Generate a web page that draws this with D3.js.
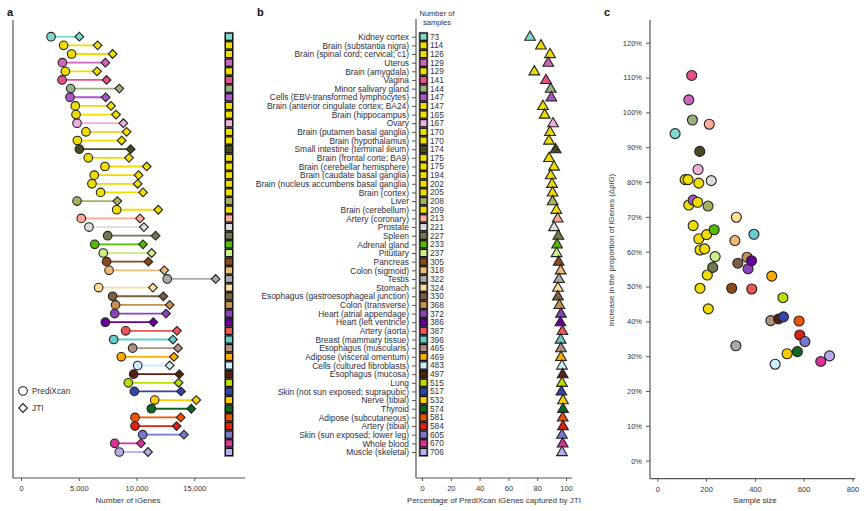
<!DOCTYPE html>
<html>
<head>
<meta charset="utf-8">
<script src="https://cdn.jsdelivr.net/npm/d3@7"></script>
<style>
  body { margin: 0; background: #fff; }
  text { font-family: "Liberation Sans", Arial, sans-serif; fill: #333; }
</style>
</head>
<body>
<script>
// tissues, top to bottom
let tissues = ["Kidney cortex", "Brain (substantia nigra)", "Brain (spinal cord; cervical; c1)", "Uterus",
  "Brain (amygdala)", "Vagina", "Minor salivary gland", "Cells (EBV-transformed lymphocytes)",
  "Brain (anterior cingulate cortex; BA24)", "Brain (hippocampus)", "Ovary", "Brain (putamen basal ganglia)",
  "Brain (hypothalamus)", "Small intestine (terminal ileum)", "Brain (frontal corte; BA9)",
  "Brain (cerebellar hemisphere)", "Brain (caudate basal ganglia)", "Brain (nucleus accumbens basal ganglia)",
  "Brain (cortex)", "Liver", "Brain (cerebellum)", "Artery (coronary)", "Prostate", "Spleen", "Adrenal gland",
  "Pituitary", "Pancreas", "Colon (sigmoid)", "Testis", "Stomach", "Esophagus (gastroesophageal junction)",
  "Colon (transverse)", "Heart (atrial appendage)", "Heart (left ventricle)", "Artery (aorta)",
  "Breast (mammary tissue)", "Esophagus (muscularis)", "Adipose (visceral omentum)", "Cells (cultured fibroblasts)",
  "Esophagus (mucosa)", "Lung", "Skin (not sun exposed; suprapubic)", "Nerve (tibial)", "Thyroid",
  "Adipose (subcutaneous)", "Artery (tibial)", "Skin (sun exposed; lower leg)", "Whole blood", "Muscle (skeletal)"];

let samples = [73, 114, 126, 129, 129, 141, 144, 147, 147, 165, 167, 170, 170, 174, 175, 175, 194, 202, 205, 208,
  209, 213, 221, 227, 233, 237, 305, 318, 322, 324, 330, 368, 372, 386, 387, 396, 465, 469, 483, 497, 515, 517,
  532, 574, 581, 584, 605, 670, 706];

let colors = ["#80d8cc", "#eedd00", "#eedd00", "#cc66bb", "#eedd00", "#e8508a", "#99b080", "#aa55cc", "#eedd00",
  "#eedd00", "#f0b0dd", "#eedd00", "#eedd00", "#4a4a22", "#eedd00", "#eedd00", "#eedd00", "#eedd00", "#eedd00",
  "#a8b060", "#eedd00", "#ffaa99", "#dddddd", "#727850", "#55bb00", "#ccee88", "#8b4a1a", "#eebb77", "#aaaaaa",
  "#ffdd99", "#7a6040", "#c89050", "#8844bb", "#660099", "#ee5555", "#66cccc", "#b09080", "#ffaa00", "#cceeff",
  "#552211", "#bbdd00", "#3344aa", "#ffcc00", "#116622", "#ee5500", "#dd2211", "#7777cc", "#dd3399", "#bbaaee"];

// panel a: number of iGenes
let predixcan = [2600, 3690, 4380, 3580, 3840, 3550, 4300, 4240, 4700, 4760, 4850, 5620, 4880, 5050, 5820, 7270,
  6340, 6140, 6890, 4850, 8280, 5220, 5880, 7500, 6380, 7120, 7410, 7620, 12660, 6720, 7930, 8190, 8110, 7300,
  9060, 8020, 9660, 8680, 10100, 9750, 9290, 9810, 11570, 11280, 9870, 9870, 10530, 8110, 8510];
let jti = [5050, 6630, 7930, 7300, 6580, 7410, 8510, 7330, 7790, 8220, 8860, 9140, 8710, 9490, 9350, 10880,
  10180, 10100, 10560, 8340, 11880, 10300, 10640, 11650, 10560, 11310, 11020, 12400, 16850, 11420, 12320, 12870,
  12550, 11450, 13500, 13150, 13590, 13240, 12870, 13700, 13640, 13850, 15170, 14740, 13820, 13470, 14100, 10380,
  10990];

// panel b: percentage of PrediXcan iGenes captured by JTI
let captured = [75.0, 82.6, 88.9, 87.7, 78.0, 86.1, 89.4, 89.8, 84.0, 85.2, 91.0, 88.9, 88.2, 92.8, 88.2, 91.7,
  89.4, 90.3, 90.7, 90.7, 93.3, 94.2, 91.7, 94.7, 93.8, 93.5, 94.9, 96.3, 95.1, 94.4, 94.4, 95.4, 96.5, 96.1, 97.5,
  96.3, 96.5, 96.5, 97.2, 97.7, 97.2, 96.8, 97.9, 97.9, 97.7, 97.9, 97.2, 97.7, 97.2];

// panel c: increase in the proportion of iGenes (%)
let deltaPiG = [93.9, 80.7, 80.7, 103.6, 73.4, 110.6, 97.8, 74.8, 67.5, 74.2, 83.6, 79.7, 63.7, 88.8, 60.5, 49.5,
  60.8, 64.9, 53.3, 73.1, 43.6, 96.6, 80.4, 55.5, 66.3, 58.6, 49.5, 63.2, 33.0, 69.9, 56.7, 58.4, 55.1, 57.4, 49.3,
  65.0, 40.2, 53.0, 27.7, 40.7, 46.8, 41.3, 30.7, 31.3, 40.1, 36.1, 34.2, 28.5, 30.1];

let aTicks = [0, 5000, 10000, 15000];
let bTicks = [0, 20, 40, 60, 80, 100];
let cxTicks = [0, 200, 400, 600, 800];
let cyTicks = [0, 10, 20, 30, 40, 50, 60, 70, 80, 90, 100, 110, 120];

let rows = tissues.map(function(t, i) {
  return {tissue: t, n: samples[i], color: colors[i], pred: predixcan[i], jti: jti[i],
          pct: captured[i], dpig: deltaPiG[i]};
});

let svg = d3.select("body").append("svg").attr("width", 864).attr("height", 511);
let axisColor = "#555";

let yRow = d3.scalePoint().domain(tissues).range([36.7, 452]);

function panelLabel(x, t) {
  svg.append("text").attr("x", x).attr("y", 16).text(t)
    .style("font-size", "11px").style("font-weight", "bold").style("fill", "#111");
}
function styleAxis(g) {
  g.selectAll("path").style("stroke", axisColor);
  g.selectAll("line").style("stroke", axisColor);
  g.selectAll("text").style("font-size", "7.5px").style("fill", "#333")
    .style("font-family", "Liberation Sans, Arial, sans-serif");
}
function squares(x) {
  svg.append("rect").attr("x", x - 4.8).attr("y", yRow(tissues[0]) - 4.8)
    .attr("width", 9.6).attr("height", yRow(tissues[48]) - yRow(tissues[0]) + 9.6)
    .style("fill", "#888");
  svg.append("g").selectAll("rect").data(rows).enter().append("rect")
    .attr("x", x - 3.6).attr("y", function(d) { return yRow(d.tissue) - 3.6; })
    .attr("width", 7.2).attr("height", 7.2)
    .style("fill", function(d) { return d.color; })
    .style("stroke", "#111").style("stroke-width", 1.2);
}

// ---------- panel a ----------
panelLabel(7, "a");
let xA = d3.scaleLinear().domain([0, 15000]).range([21, 194.3]);
svg.append("line").attr("x1", 13).attr("x2", 13).attr("y1", 20).attr("y2", 478)
  .style("stroke", axisColor).style("stroke-width", 1.2);
svg.append("line").attr("x1", 13).attr("x2", 245).attr("y1", 478).attr("y2", 478)
  .style("stroke", axisColor).style("stroke-width", 1.2);
let gA = svg.append("g").attr("transform", "translate(0,478)")
  .call(d3.axisBottom(xA).tickValues(aTicks).tickSize(3).tickPadding(5).tickFormat(d3.format(",")));
gA.select(".domain").remove();
styleAxis(gA);
svg.append("text").attr("x", 128).attr("y", 503).attr("text-anchor", "middle")
  .text("Number of iGenes").style("font-size", "8px");

let ga = svg.append("g");
ga.selectAll("line.link").data(rows).enter().append("line")
  .attr("x1", function(d) { return xA(d.pred); })
  .attr("x2", function(d) { return xA(d.jti); })
  .attr("y1", function(d) { return yRow(d.tissue); })
  .attr("y2", function(d) { return yRow(d.tissue); })
  .style("stroke", function(d) { return d.color; }).style("stroke-width", 1.8);
let diamond = d3.symbol().type(d3.symbolSquare).size(38);
ga.selectAll("path.jti").data(rows).enter().append("path")
  .attr("d", diamond)
  .attr("transform", function(d) { return "translate(" + xA(d.jti) + "," + yRow(d.tissue) + ") rotate(45)"; })
  .style("fill", function(d) { return d.color; })
  .style("stroke", "#222").style("stroke-width", 1.1);
ga.selectAll("circle").data(rows).enter().append("circle")
  .attr("cx", function(d) { return xA(d.pred); })
  .attr("cy", function(d) { return yRow(d.tissue); })
  .attr("r", 4.3)
  .style("fill", function(d) { return d.color; })
  .style("stroke", "#222").style("stroke-width", 1.1);
squares(229);

// legend
svg.append("circle").attr("cx", 23).attr("cy", 391).attr("r", 4.3)
  .style("fill", "#fff").style("stroke", "#222").style("stroke-width", 1.1);
svg.append("text").attr("x", 32).attr("y", 394).text("PrediXcan").style("font-size", "8.3px");
svg.append("path").attr("d", diamond).attr("transform", "translate(23,408) rotate(45)")
  .style("fill", "#fff").style("stroke", "#222").style("stroke-width", 1.1);
svg.append("text").attr("x", 32).attr("y", 411).text("JTI").style("font-size", "8.3px");

// ---------- panel b ----------
panelLabel(257, "b");
let xB = d3.scaleLinear().domain([0, 100]).range([422, 566]);
svg.append("line").attr("x1", 416).attr("x2", 416).attr("y1", 19).attr("y2", 478)
  .style("stroke", axisColor).style("stroke-width", 1.2);
svg.append("line").attr("x1", 416).attr("x2", 572).attr("y1", 478).attr("y2", 478)
  .style("stroke", axisColor).style("stroke-width", 1.2);
let gBx = svg.append("g").attr("transform", "translate(0,478)")
  .call(d3.axisBottom(xB).tickValues(bTicks).tickSize(3).tickPadding(5));
gBx.select(".domain").remove();
styleAxis(gBx);
let gBy = svg.append("g").attr("transform", "translate(416,0)")
  .call(d3.axisLeft(yRow).tickSize(4).tickPadding(3));
gBy.select(".domain").remove();
styleAxis(gBy);
gBy.selectAll("text").style("font-size", "8.4px").style("fill", "#2e2e3a");
svg.append("text").attr("x", 494).attr("y", 503).attr("text-anchor", "middle")
  .text("Percentage of PrediXcan iGenes captured by JTI").style("font-size", "8px");
svg.append("text").attr("x", 437).attr("y", 16).attr("text-anchor", "middle")
  .text("Number of").style("font-size", "7.5px");
svg.append("text").attr("x", 437).attr("y", 25).attr("text-anchor", "middle")
  .text("samples").style("font-size", "7.5px");

squares(423.5);
svg.append("g").selectAll("text").data(rows).enter().append("text")
  .attr("x", 430).attr("y", function(d) { return yRow(d.tissue) + 3; })
  .text(function(d) { return d.n; })
  .style("font-size", "8.3px").style("fill", "#333");

let tri = d3.symbol().type(d3.symbolTriangle).size(50);
svg.append("g").selectAll("path").data(rows).enter().append("path")
  .attr("d", tri)
  .attr("transform", function(d) { return "translate(" + xB(d.pct) + "," + (yRow(d.tissue) + 0.5) + ")"; })
  .style("fill", function(d) { return d.color; })
  .style("stroke", "#222").style("stroke-width", 1.1);

// ---------- panel c ----------
panelLabel(604, "c");
let xC = d3.scaleLinear().domain([0, 800]).range([657.3, 852.5]);
let yC = d3.scaleLinear().domain([0, 120]).range([460.7, 42.7]);
svg.append("line").attr("x1", 650).attr("x2", 650).attr("y1", 20).attr("y2", 478.7)
  .style("stroke", axisColor).style("stroke-width", 1.2);
svg.append("line").attr("x1", 650).attr("x2", 855).attr("y1", 478.7).attr("y2", 478.7)
  .style("stroke", axisColor).style("stroke-width", 1.2);
let gCx = svg.append("g").attr("transform", "translate(0,478.7)")
  .call(d3.axisBottom(xC).tickValues(cxTicks).tickSize(3).tickPadding(5));
gCx.select(".domain").remove();
styleAxis(gCx);
let gCy = svg.append("g").attr("transform", "translate(650,0)")
  .call(d3.axisLeft(yC).tickValues(cyTicks).tickSize(4).tickPadding(4)
    .tickFormat(function(d) { return d + "%"; }));
gCy.select(".domain").remove();
styleAxis(gCy);
svg.append("text").attr("x", 755).attr("y", 503).attr("text-anchor", "middle")
  .text("Sample size").style("font-size", "8px");
svg.append("text").attr("transform", "translate(614,250) rotate(-90)").attr("text-anchor", "middle")
  .text("Increase in the proportion of iGenes (\u0394piG)").style("font-size", "8px");

svg.append("g").selectAll("circle").data(rows).enter().append("circle")
  .attr("cx", function(d) { return xC(d.n); })
  .attr("cy", function(d) { return yC(d.dpig); })
  .attr("r", 5)
  .style("fill", function(d) { return d.color; })
  .style("stroke", "#222").style("stroke-width", 1.1);
</script>
</body>
</html>
